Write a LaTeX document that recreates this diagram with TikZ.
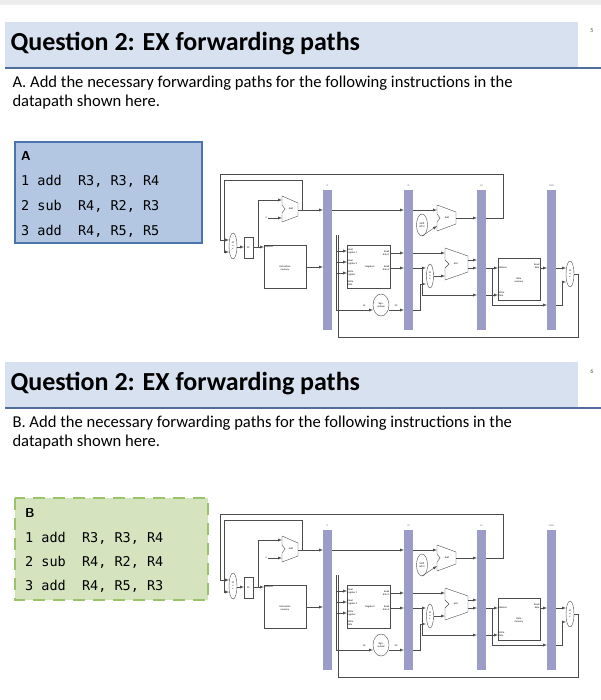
\documentclass[tikz,border=0pt]{standalone}
\usepackage{fontspec}
\setmainfont{Carlito}
\setmonofont{DejaVu Sans Mono}
\definecolor{band}{HTML}{D7E1EF}
\definecolor{bline}{HTML}{4F6E9C}
\definecolor{boxa}{HTML}{B3C6E2}
\definecolor{boxaline}{HTML}{4A74B0}
\definecolor{boxb}{HTML}{D5E4BE}
\definecolor{boxbline}{HTML}{9BC46A}
\begin{document}
\begin{tikzpicture}[x=1pt,y=-1pt,
  dp/.style={draw=black!70,line width=0.4pt},
  arr/.style={dp,-latex},
  unit/.style={dp,fill=white},
  bar/.style={fill=blue!30!gray!60,draw=none},
  tiny/.style={font=\fontsize{2.5}{3}\selectfont,inner sep=0.5pt},
  title/.style={font=\fontsize{26}{28}\selectfont\bfseries,anchor=west},
  body/.style={font=\fontsize{16.6}{19.5}\selectfont,anchor=north west,align=left},
  code/.style={font=\ttfamily\fontsize{13.5}{16}\selectfont,anchor=west,inner sep=0pt}]
\useasboundingbox (0,0) rectangle (601,700);
\fill[gray!15] (0,0) rectangle (601,5);
\newcommand\slide[3]{%
  \fill[band] (5,#1+22) rectangle (578,#1+68);
  \draw[bline,line width=1.5pt] (5,#1+68) -- (601,#1+68);
  \node[title] (t#2) at (7,#1+44) {Question 2: EX forwarding paths};
  \node[font=\fontsize{6}{7}\selectfont\bfseries,text=gray] (p#2) at (592,#1+31) {#3};
}
\newcommand\datapath[2]{%
 \begin{scope}[shift={(0,#1)}]
  \foreach \x/\l in {323/IF/ID,404/ID/EX,477/EX/MEM,547/MEM/WB}
    {\fill[bar] (\x,190) rectangle (\x+9,330);
     \node[tiny,text=gray] at (\x+4.5,186) {\l};}
  \draw[arr] (486,218) -- (503,218) -- (503,174) -- (220,174) -- (220,240) -- (229,240);
  \draw[arr] (302,210) -- (302,180) -- (224,180) -- (224,252) -- (229,252);
  \draw[unit] (233,246) ellipse (4 and 13);
  \node[tiny,align=center] at (233,246) {M\\u\\x};
  \draw[unit] (244,237) rectangle (253,258); \node[tiny] (pc#2) at (248.5,247.5) {PC};
  \draw[arr] (237,247) -- (244,247);
  \draw[arr] (253,247) -- (264,247);
  \draw[unit] (264,245) rectangle (306,288);
  \node[tiny,align=center] (im#2) at (285,268) {Instruction\\memory};
  \node[tiny,anchor=north west] at (264,245) {Address};
  \draw[unit] (282,196) -- (298,203) -- (298,216) -- (282,222) -- (282,213) -- (285,209) -- (282,205) -- cycle;
  \node[tiny] at (291,209) {Add};
  \draw[arr] (258,247) -- (258,200) -- (282,200);
  \draw[arr] (268,218) -- (282,218); \node[tiny] at (266,218) {4};
  \draw[arr] (298,210) -- (323,210);
  \draw[arr] (332,210) -- (404,210);
  \draw[arr] (306,267) -- (323,267);
  \draw[unit] (347,245) rectangle (390,288);
  \node[tiny] (rg#2) at (370,267) {Registers};
  \node[tiny,anchor=west,align=left] at (347,251) {Read\\register 1};
  \node[tiny,anchor=west,align=left] at (347,262) {Read\\register 2};
  \node[tiny,anchor=west,align=left] at (347,273) {Write\\register};
  \node[tiny,anchor=west,align=left] at (347,283) {Write\\data};
  \node[tiny,anchor=east,align=right] at (390,253) {Read\\data 1};
  \node[tiny,anchor=east,align=right] at (390,268) {Read\\data 2};
  \draw[dp] (336,235) -- (336,310);
  \draw[dp] (338,235) -- (338,337);
  \foreach \y in {251,262,273} \draw[arr] (336,\y) -- (347,\y);
  \draw[arr] (390,253) -- (404,253);
  \draw[arr] (390,268) -- (404,268);
  \draw[unit] (381,305) ellipse (8 and 11);
  \node[tiny,align=center] (se#2) at (381,305) {Sign-\\extend};
  \draw[arr] (336,310) -- (373,310);
  \draw[arr] (389,310) -- (404,310);
  \node[tiny] at (364,306) {16}; \node[tiny] at (396,306) {32};
  \draw[arr] (413,210) -- (437,210);
  \draw[unit] (422,225) ellipse (5.5 and 11);
  \node[tiny,align=center] at (422,225) {Shift\\left 2};
  \draw[unit] (437,205) -- (456,212) -- (456,224) -- (437,231) -- (437,222) -- (440,218) -- (437,214) -- cycle;
  \node[tiny] at (447,218) {Add};
  \draw[arr] (456,218) -- (477,218);
  \draw[arr] (422,236) -- (437,226);
  \draw[unit] (430,276) ellipse (3.5 and 12);
  \node[tiny,align=center] at (430,276) {M\\u\\x};
  \draw[arr] (413,268) -- (426,268);
  \draw[dp] (422,268) -- (422,290);
  \draw[arr] (413,310) -- (420,310) -- (420,284) -- (426,284);
  \draw[unit] (445,248) -- (468,256) -- (468,272) -- (445,280) -- (445,268) -- (449,264) -- (445,260) -- cycle;
  \node[tiny] at (456,264) {ALU};
  \draw[arr] (413,253) -- (445,253);
  \draw[arr] (434,276) -- (445,276);
  \draw[arr] (468,260) -- (477,260);
  \draw[arr] (468,268) -- (477,268);
  \draw[arr] (422,290) -- (422,295) -- (477,295);
  \draw[unit] (498,258) rectangle (540,300);
  \node[tiny,align=center] (dm#2) at (519,280) {Data\\memory};
  \node[tiny,anchor=west] at (498,268) {Address};
  \node[tiny,anchor=west,align=left] at (498,294) {Write\\data};
  \node[tiny,anchor=east,align=right] at (540,266) {Read\\data};
  \draw[arr] (486,268) -- (498,268);
  \draw[arr] (486,295) -- (498,295);
  \draw[arr] (492,268) -- (492,305) -- (547,305);
  \draw[arr] (540,268) -- (547,268);
  \draw[unit] (570,274) ellipse (4 and 13);
  \node[tiny,align=center] at (570,274) {M\\u\\x};
  \draw[arr] (556,268) -- (566,268);
  \draw[arr] (556,305) -- (562,305) -- (562,282) -- (566,282);
  \draw[dp] (574,274) -- (578,274) -- (578,337) -- (338,337);
 \end{scope}}
\slide{0}{a}{5}
\node[body] (ta) at (9,72) {A. Add the necessary forwarding paths for the following instructions in the\\datapath shown here.};
\draw[boxaline,line width=2.2pt,fill=boxa] (15,142) rectangle (202,243);
\node[code,font=\sffamily\bfseries\fontsize{13}{15}\selectfont] (ha) at (21,156) {A};
\node[code] (a1) at (21,181) {1 add\ \ R3, R3, R4};
\node[code] (a2) at (21,206) {2 sub\ \ R4, R2, R3};
\node[code] (a3) at (21,231) {3 add\ \ R4, R5, R5};
\datapath{0}{a}
\slide{340}{b}{6}
\node[body] (tb) at (9,412) {B. Add the necessary forwarding paths for the following instructions in the\\datapath shown here.};
\draw[boxbline,line width=2.5pt,dash pattern=on 12pt off 8pt,fill=boxb] (15,498) rectangle (208,600);
\node[code,font=\sffamily\bfseries\fontsize{13}{15}\selectfont] (hb) at (25,513) {B};
\node[code] (b1) at (25,538) {1 add\ \ R3, R3, R4};
\node[code] (b2) at (25,562) {2 sub\ \ R4, R2, R4};
\node[code] (b3) at (25,586) {3 add\ \ R4, R5, R3};
\datapath{340}{b}
\end{tikzpicture}
\end{document}
